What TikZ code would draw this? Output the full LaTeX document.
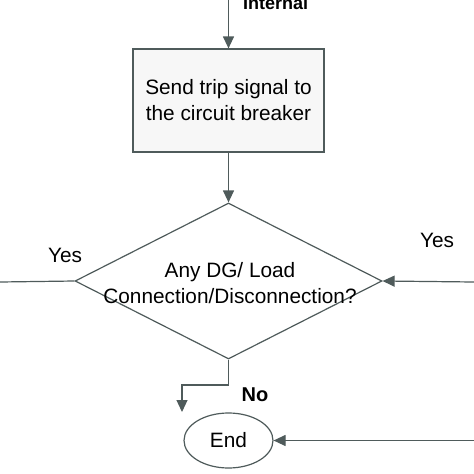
\documentclass[tikz,border=0pt]{standalone}
\usepackage{fontspec}
\setmainfont{Liberation Sans}
\usetikzlibrary{shapes.geometric,arrows.meta}
\definecolor{linec}{HTML}{4F5B5B}
\definecolor{boxfill}{HTML}{F7F7F7}
\tikzset{
  conn/.style={draw=linec, line width=1.2pt},
  arr/.style={conn, -{Triangle[length=12pt,width=11pt]}},
  procbox/.style={draw=linec, line width=1.2pt, fill=boxfill, minimum width=191pt, minimum height=103pt, inner sep=0pt, align=center},
  decide/.style={diamond, draw=linec, line width=1.2pt, fill=white, minimum width=307pt, minimum height=156pt, inner sep=0pt},
  term/.style={ellipse, draw=linec, line width=1.2pt, fill=white, minimum width=89pt, minimum height=55pt, inner sep=0pt},
  txt/.style={font=\fontsize{20.8}{26}\selectfont, text=black, inner sep=0pt, align=center},
}
\begin{document}
\begin{tikzpicture}[x=1pt,y=-1pt]
\useasboundingbox (0,0) rectangle (474,474);
\coordinate (topin) at (228.5,0);
\coordinate (leftout) at (0,282);
\coordinate (rightin) at (474,282);
\coordinate (endin) at (474,440.5);
\node[procbox, txt] (send) at (228.5,100.5) {Send trip signal to\\the circuit breaker};
\node[decide] (dec) at (228.5,281) {};
\node[txt] (dectext) at (230,283) {Any DG/ Load\\Connection/Disconnection?};
\node[term] (end) at (228.5,440.5) {};
\node[txt] (endtext) at (end.center) {End};
\coordinate (bend1) at (228.5,385);
\coordinate (bend2) at (182,385);
\coordinate (tip) at (182,412);
\draw[arr] (topin) -- (send.north);
\draw[arr] (send.south) -- (dec.north);
\draw[conn] (dec.west) -- (leftout);
\draw[arr] (rightin) -- (dec.east);
\draw[arr] (dec.south) -- (bend1) -- (bend2) -- (tip);
\draw[arr] (endin) -- (end.east);
\node[txt, anchor=base west, font=\fontsize{18}{22}\selectfont\bfseries] (internal) at (243,9) {Internal};
\node[txt] (yesl) at (65,255) {Yes};
\node[txt] (yesr) at (437,240) {Yes};
\node[txt, font=\fontsize{20}{26}\selectfont\bfseries] (no) at (255,395) {No};
\end{tikzpicture}
\end{document}
